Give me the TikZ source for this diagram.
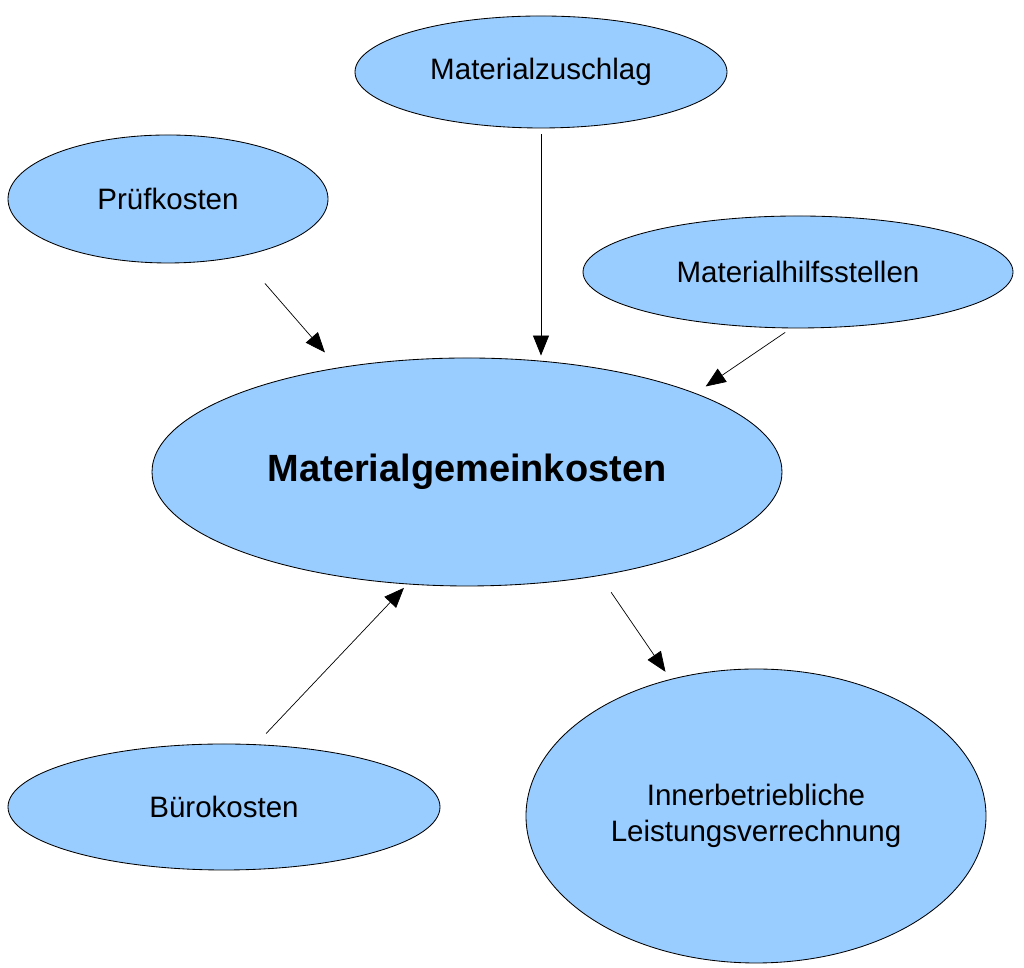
\documentclass[tikz,border=0pt]{standalone}
\usepackage{fontspec}
\setmainfont{Liberation Sans}
\usetikzlibrary{shapes.geometric,arrows.meta}
\definecolor{kostblau}{HTML}{99CCFF}
\tikzset{
  kosten/.style={ellipse,draw=black,line width=0.6pt,fill=kostblau,inner sep=0pt,align=center,font=\fontsize{21}{26}\selectfont},
  pfeil/.style={line width=0.5pt,-{Triangle[length=0.5cm,width=0.4cm]}}
}
\begin{document}
\begin{tikzpicture}
                \useasboundingbox (0,0) rectangle (25.6,24.2);
                %ellipsen
                \node[kosten,minimum width=9.3cm,minimum height=2.8cm] (zuschlag) at (13.525,22.4) {Materialzuschlag};
                \node[kosten,minimum width=8cm,minimum height=3.2cm] (pruef) at (4.2,19.225) {Prüfkosten};
                \node[kosten,minimum width=10.75cm,minimum height=2.8cm] (hilfs) at (19.95,17.4) {Materialhilfsstellen};
                \node[kosten,minimum width=15.75cm,minimum height=5.7cm,font=\fontsize{27}{32}\selectfont\bfseries] (mgk) at (11.675,12.4) {Materialgemeinkosten};
                \node[kosten,minimum width=10.8cm,minimum height=3.15cm] (buero) at (5.6,4.025) {Bürokosten};
                \node[kosten,minimum width=11.5cm,minimum height=7.35cm] (ibl) at (18.9,3.8) {Innerbetriebliche\\Leistungsverrechnung};
                %pfeile
                \draw[pfeil,shorten <=0.15cm,shorten >=0.05cm] (zuschlag.south) -- (zuschlag.south |- mgk.north);
                \draw[pfeil,shorten <=0.9cm,shorten >=0.5cm] (pruef.-38) -- (mgk.141);
                \draw[pfeil,shorten <=0.18cm,shorten >=0.3cm] (hilfs.-97) -- (mgk.19);
                \draw[pfeil,shorten <=0.37cm,shorten >=0.12cm] (buero.63.4) -- (mgk.-118.9);
                \draw[pfeil,shorten <=0.5cm,shorten >=0.22cm] (mgk.-38.5) -- (ibl.122.6);
\end{tikzpicture}
\end{document}
